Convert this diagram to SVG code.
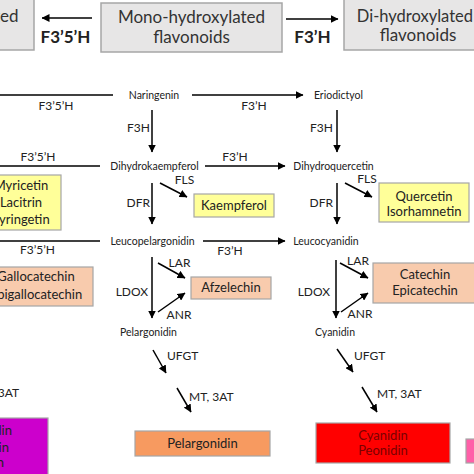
<svg xmlns="http://www.w3.org/2000/svg" width="474" height="474" viewBox="0 0 474 474">
<defs>
<marker id="ah" markerWidth="8" markerHeight="8" refX="7.5" refY="4" orient="auto" markerUnits="userSpaceOnUse">
<path d="M0,0 L8,4 L0,8 z" fill="#000"/>
</marker>
<style>
text{font-family:Lato,"Liberation Sans",sans-serif;fill:#222}
.hd{font-size:17px;text-anchor:middle;fill:#333}
.hb{font-size:17px;font-weight:bold;text-anchor:middle;fill:#222}
.cp{font-size:10.5px;text-anchor:middle}
.lb{font-size:12px}
.bx{font-size:13px;text-anchor:middle}
.hbox{fill:#e7e6e6;stroke:#a6a6a6;stroke-width:1.5}
.yl{fill:#ffff99;stroke:#a6a6a6;stroke-width:1.2}
.sa{fill:#f8cbad;stroke:#a6a6a6;stroke-width:1.2}
.ln{stroke:#000;stroke-width:1.5;fill:none}
.ar{stroke:#000;stroke-width:1.5;fill:none;marker-end:url(#ah)}
</style>
</defs>

<g id="header-tri">
<rect class="hbox" x="-130" y="-5" width="164" height="55"/>
<text class="hd" x="18.5" y="22" style="text-anchor:end">Tri-hydroxylated</text>
</g>
<g id="header-mono">
<rect class="hbox" x="101" y="3" width="181" height="49"/>
<text class="hd" x="191.5" y="23">Mono-hydroxylated</text>
<text class="hd" x="191.5" y="43">flavonoids</text>
</g>
<g id="header-di">
<rect class="hbox" x="344" y="-1" width="150" height="51"/>
<text class="hd" x="473" y="22" style="text-anchor:end;font-size:16.5px">Di-hydroxylated</text>
<text class="hd" x="418" y="41">flavonoids</text>
</g>

<g id="connectors">
<line class="ar" x1="92" y1="18" x2="42" y2="18"/>
<line class="ar" x1="286" y1="19" x2="338" y2="19"/>
<line class="ln" x1="0" y1="95" x2="113" y2="95"/>
<line class="ar" x1="192" y1="95" x2="303" y2="95"/>
<line class="ln" x1="0" y1="166" x2="100" y2="166"/>
<line class="ar" x1="205" y1="166" x2="285" y2="166"/>
<line class="ln" x1="0" y1="241" x2="100" y2="241"/>
<line class="ar" x1="203" y1="241" x2="285" y2="241"/>
<line class="ar" x1="152" y1="110" x2="152" y2="152"/>
<line class="ar" x1="337" y1="110" x2="337" y2="152"/>
<line class="ar" x1="152" y1="183" x2="152" y2="224"/>
<line class="ar" x1="337" y1="183" x2="337" y2="224"/>
<line class="ar" x1="160" y1="183" x2="187" y2="197"/>
<line class="ar" x1="345" y1="183" x2="372" y2="197"/>
<line class="ar" x1="152" y1="257" x2="152" y2="318"/>
<line class="ar" x1="336" y1="260" x2="336" y2="318"/>
<line class="ar" x1="158" y1="263" x2="185" y2="278"/>
<line class="ar" x1="158" y1="312" x2="185" y2="293"/>
<line class="ar" x1="340" y1="263" x2="368" y2="278"/>
<line class="ar" x1="341" y1="312" x2="368" y2="293"/>
<line class="ar" x1="153" y1="350" x2="166" y2="373"/>
<line class="ar" x1="177" y1="388" x2="191" y2="412"/>
<line class="ar" x1="337" y1="349" x2="353" y2="372"/>
<line class="ar" x1="362" y1="387" x2="377" y2="412"/>
</g>

<g id="labels">
<text class="hb" x="65.5" y="43">F3’5’H</text>
<text class="hb" x="312.5" y="43">F3’H</text>
<text class="lb" x="56" y="110" text-anchor="middle">F3’5’H</text>
<text class="lb" x="254" y="110" text-anchor="middle">F3’H</text>
<text class="lb" x="150" y="132" text-anchor="end">F3H</text>
<text class="lb" x="333" y="132" text-anchor="end">F3H</text>
<text class="lb" x="38" y="161" text-anchor="middle">F3’5’H</text>
<text class="lb" x="235" y="161" text-anchor="middle">F3’H</text>
<text class="lb" x="184.5" y="184" text-anchor="middle">FLS</text>
<text class="lb" x="367" y="183" text-anchor="middle">FLS</text>
<text class="lb" x="150" y="207" text-anchor="end">DFR</text>
<text class="lb" x="333" y="207" text-anchor="end">DFR</text>
<text class="lb" x="37.5" y="254" text-anchor="middle">F3’5’H</text>
<text class="lb" x="230" y="255" text-anchor="middle">F3’H</text>
<text class="lb" x="179.5" y="267" text-anchor="middle">LAR</text>
<text class="lb" x="148" y="296" text-anchor="end">LDOX</text>
<text class="lb" x="179" y="318.5" text-anchor="middle">ANR</text>
<text class="lb" x="358" y="264.5" text-anchor="middle">LAR</text>
<text class="lb" x="330" y="296" text-anchor="end">LDOX</text>
<text class="lb" x="360" y="318" text-anchor="middle">ANR</text>
<text class="lb" x="167" y="359.5">UFGT</text>
<text class="lb" x="354" y="359.5">UFGT</text>
<text class="lb" x="189" y="400.5">MT, 3AT</text>
<text class="lb" x="377" y="397.5">MT, 3AT</text>
<text class="lb" x="19" y="396.5" text-anchor="end">MT, 3AT</text>
</g>

<g id="naringenin"><text class="cp" x="154" y="98.5">Naringenin</text></g>
<g id="eriodictyol"><text class="cp" x="338.5" y="98.5">Eriodictyol</text></g>
<g id="dihydrokaempferol"><text class="cp" x="154.5" y="169.5">Dihydrokaempferol</text></g>
<g id="dihydroquercetin"><text class="cp" x="333.5" y="169.5">Dihydroquercetin</text></g>
<g id="leucopelargonidin"><text class="cp" x="152.5" y="244.5">Leucopelargonidin</text></g>
<g id="leucocyanidin"><text class="cp" x="326" y="244.5">Leucocyanidin</text></g>
<g id="pelargonidin-int"><text class="cp" x="148.5" y="336">Pelargonidin</text></g>
<g id="cyanidin-int"><text class="cp" x="335" y="336">Cyanidin</text></g>

<g id="myricetin-box">
<rect class="yl" x="-5" y="175" width="66" height="55"/>
<text class="bx" x="21" y="189.5">Myricetin</text>
<text class="bx" x="21" y="207">Lacitrin</text>
<text class="bx" x="21" y="223.5">Syringetin</text>
</g>
<g id="kaempferol-box">
<rect class="yl" x="194" y="194" width="80" height="23"/>
<text class="bx" x="234" y="209.5">Kaempferol</text>
</g>
<g id="quercetin-box">
<rect class="yl" x="379" y="183" width="90" height="39"/>
<text class="bx" x="424" y="200.5">Quercetin</text>
<text class="bx" x="424" y="216">Isorhamnetin</text>
</g>
<g id="gallocatechin-box">
<rect class="sa" x="-5" y="267" width="98" height="39"/>
<text class="bx" x="36" y="281">Gallocatechin</text>
<text class="bx" x="36" y="298.5">Epigallocatechin</text>
</g>
<g id="afzelechin-box">
<rect class="sa" x="191" y="277" width="80" height="22"/>
<text class="bx" x="231" y="292">Afzelechin</text>
</g>
<g id="catechin-box">
<rect class="sa" x="373" y="263" width="110" height="40"/>
<text class="bx" x="425" y="278.5">Catechin</text>
<text class="bx" x="425" y="295">Epicatechin</text>
</g>
<g id="delphinidin-box">
<rect x="-5" y="418" width="53" height="62" fill="#cc00cc" stroke="#a6a6a6" stroke-width="1.2"/>
<text class="bx" x="12" y="434.5" style="text-anchor:end">Delphinidin</text>
<text class="bx" x="9" y="451.5" style="text-anchor:end">Petunidin</text>
<text class="bx" x="4" y="466.5" style="text-anchor:end">Malvidin</text>
</g>
<g id="pelargonidin-box">
<rect x="135" y="431" width="135" height="25" fill="#f79a60" stroke="#a6a6a6" stroke-width="1.2"/>
<text class="bx" x="202.5" y="447.5">Pelargonidin</text>
</g>
<g id="cyanidin-box">
<rect x="316" y="423" width="134" height="40" fill="#ff0000" stroke="#a6a6a6" stroke-width="1.2"/>
<text class="bx" x="383" y="439.5" style="fill:#7a0000">Cyanidin</text>
<text class="bx" x="383" y="455" style="fill:#7a0000">Peonidin</text>
</g>
<g id="pink-box">
<rect x="466" y="439" width="20" height="24" fill="#ff5fa8" stroke="#a6a6a6" stroke-width="1.2"/>
</g>
</svg>
